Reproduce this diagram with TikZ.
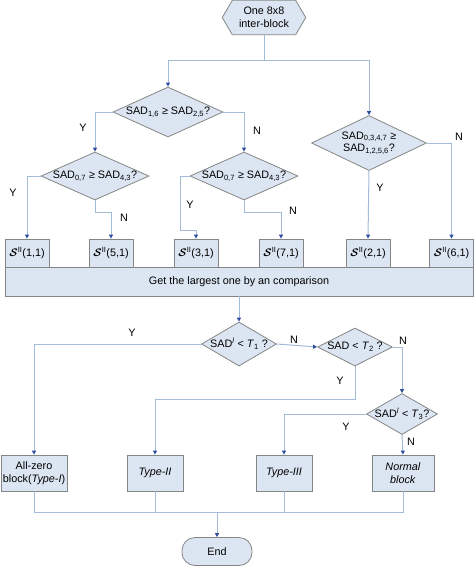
\documentclass[tikz,border=0pt]{standalone}
\usepackage{amsmath}
\usepackage{fontspec}
\setmainfont{Liberation Sans}
\usetikzlibrary{shapes.geometric,arrows.meta}
\definecolor{fillb}{HTML}{DCE6F2}
\definecolor{edgec}{HTML}{858585}
\definecolor{linec}{HTML}{A3BAD8}
\definecolor{tipc}{HTML}{2E4E9E}
\begin{document}
\begin{tikzpicture}[x=1pt,y=-1pt,
  font=\fontsize{10.8}{12.5}\selectfont,
  boxst/.style={draw=edgec, fill=fillb, line width=0.8pt},
  box/.style={boxst, inner sep=0pt, align=center},
  dia/.style={diamond, boxst, inner sep=0pt},
  conn/.style={draw=linec, line width=1pt},
  arr/.style={conn, -{Triangle[length=4pt,width=4pt,color=tipc]}},
  lab/.style={inner sep=0pt}]
\useasboundingbox (0,0) rectangle (474,566);

% hexagon start
\node (hex) [minimum width=83pt, minimum height=34pt, inner sep=0pt] at (264,17.5) {};
\path[boxst] (hex.west) -- ([xshift=10pt]hex.north west) -- ([xshift=-10pt]hex.north east)
  -- (hex.east) -- ([xshift=-10pt]hex.south east) -- ([xshift=10pt]hex.south west) -- cycle;
\node (hext) [align=center, inner sep=0pt] at (hex) {One 8x8\\inter-block};

% decisions, first level
\node (d1) [dia, minimum width=110pt, minimum height=50pt,
  label={[lab]center:SAD\textsubscript{1,6} ≥ SAD\textsubscript{2,5}?}] at (168,112) {};
\node (d4) [dia, minimum width=115pt, minimum height=55pt,
  label={[lab,align=center]center:SAD\textsubscript{0,3,4,7} ≥\\SAD\textsubscript{1,2,5,6}?}] at (369,143) {};
\node (d2) [dia, minimum width=108pt, minimum height=48pt,
  label={[lab]center:SAD\textsubscript{0,7} ≥ SAD\textsubscript{4,3}?}] at (95,176) {};
\node (d3) [dia, minimum width=108pt, minimum height=48pt,
  label={[lab]center:SAD\textsubscript{0,7} ≥ SAD\textsubscript{4,3}?}] at (244,176) {};

% big box and S boxes
\node (big) [box, minimum width=468pt, minimum height=29pt] at (239,281.5) {Get the largest one by an comparison};
\foreach \n/\x/\t in {s1/27/{1,1}, s2/111/{5,1}, s3/196/{3,1}, s4/281/{7,1}, s5/368/{2,1}, s6/451.5/{6,1}}
  \node (\n) [box, minimum width=44pt, minimum height=28pt] at (\x,253)
    {$\boldsymbol{\mathcal{S}}$\textsuperscript{II}(\t)};

% second stage decisions
\node (d5) [dia, minimum width=75pt, minimum height=44pt,
  label={[lab]center:SAD\textsuperscript{\textit{l}} < \textit{T}\textsubscript{1} ?}] at (239,344) {};
\node (d6) [dia, minimum width=75pt, minimum height=38pt,
  label={[lab]center:SAD < \textit{T}\textsubscript{2} ?}] at (355,347) {};
\node (d7) [dia, minimum width=71pt, minimum height=41pt,
  label={[lab]center:SAD\textsuperscript{\textit{l}} < \textit{T}\textsubscript{3}?}] at (402,414) {};

% result boxes
\node (b1) [box, minimum width=66pt, minimum height=36pt] at (34,473) {All-zero\\block(\textit{Type-I})};
\node (b2) [box, minimum width=56pt, minimum height=36pt] at (155,473) {\textit{Type-II}};
\node (b3) [box, minimum width=56pt, minimum height=36pt] at (284,473) {\textit{Type-III}};
\node (b4) [box, minimum width=62pt, minimum height=36pt] at (403,473) {\textit{Normal}\\\textit{block}};
\node (end) [box, rounded corners=13pt, minimum width=70pt, minimum height=28pt] at (217,551.5) {End};

% junction coordinates
\coordinate (j1) at (264,60);
\coordinate (j2) at (95,212);
\coordinate (j3a) at (180,230);
\coordinate (j3b) at (244,212);
\coordinate (j4) at (355,399);
\coordinate (jl) at (34,512);
\coordinate (jr) at (403,512);
\coordinate (je) at (217,512);

% connectors
\draw[conn] (hex) -- (j1);
\draw[arr] (j1) -| (d1.north);
\draw[arr] (j1) -| (d4.north);
\draw[arr] (d1.west) -| (d2.north);
\draw[arr] (d1.east) -| (d3.north);
\draw[arr] (d2.west) -| (s1.north);
\draw[arr] (d2.south) -- (j2) -| (s2.north);
\draw[arr] (d3.west) -| (j3a) -| (s3.north);
\draw[arr] (d3.south) -- (j3b) -| (s4.north);
\draw[arr] (d4.south) -- (s5.north);
\draw[arr] (d4.east) -| (s6.north);
\draw[arr] (big.south -| d5.north) -- (d5.north);
\draw[arr] (d5.west) -| (b1.north);
\draw[arr] (d5.east) -- (d6.west);
\draw[arr] (d6.east) -| (d7.north);
\draw[arr] (d6.south) -- (j4) -| (b2.north);
\draw[arr] (d7.west) -| (b3.north);
\draw[arr] (d7.south) -- (b4.north);
\draw[conn] (b1.south) -- (jl) -- (jr) -- (b4.south);
\draw[conn] (b2.south) -- (b2.south |- jl);
\draw[conn] (b3.south) -- (b3.south |- jl);
\draw[arr] (je) -- (end.north);

% branch labels
\node (y1) [lab] at (83,128) {Y};
\node (n1) [lab] at (257,131) {N};
\node (y2) [lab] at (13,193) {Y};
\node (n2) [lab] at (124,218) {N};
\node (y3) [lab] at (190,205) {Y};
\node (n3) [lab] at (293,211) {N};
\node (y4) [lab] at (380,188) {Y};
\node (n4) [lab] at (459,137) {N};
\node (y5) [lab] at (132,333) {Y};
\node (n5) [lab] at (294,340) {N};
\node (n6) [lab] at (403,341) {N};
\node (y6) [lab] at (340,381) {Y};
\node (y7) [lab] at (346,427) {Y};
\node (n7) [lab] at (411,442) {N};
\end{tikzpicture}
\end{document}
